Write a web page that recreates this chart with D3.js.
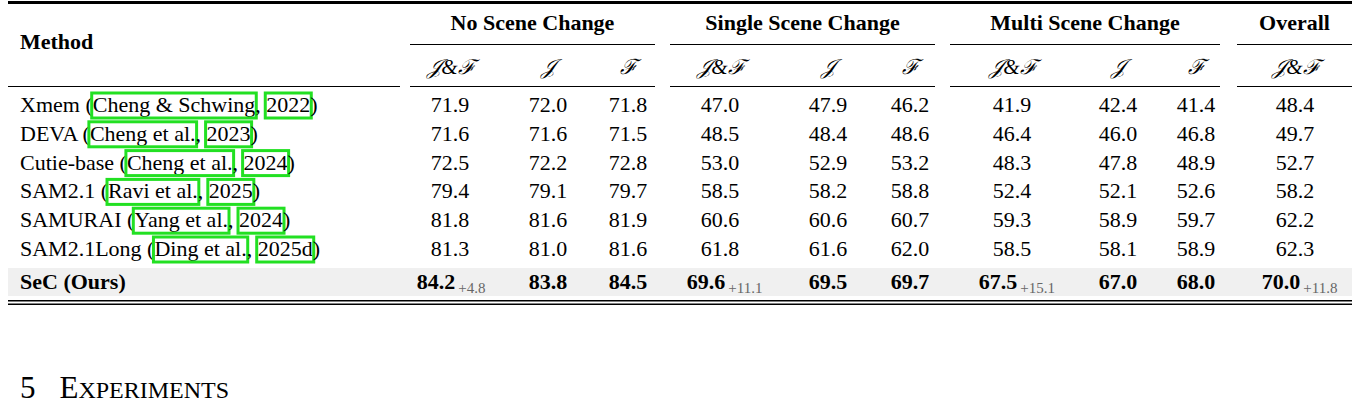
<!DOCTYPE html>
<html><head><meta charset="utf-8">
<script src="https://cdn.jsdelivr.net/npm/d3@7"></script>
<style>body{margin:0;background:#fff}text{font-family:"Liberation Serif","Times New Roman",serif}</style>
</head><body><svg id="t" width="1365" height="408"></svg>
<script>
// table data
const groups = ["No Scene Change", "Single Scene Change", "Multi Scene Change", "Overall"];
const subCols = ["𝒥&ℱ", "𝒥", "ℱ", "𝒥&ℱ", "𝒥", "ℱ", "𝒥&ℱ", "𝒥", "ℱ", "𝒥&ℱ"];
const methods = ["Xmem", "DEVA", "Cutie-base", "SAM2.1", "SAMURAI", "SAM2.1Long"];
const citeAuthors = ["Cheng & Schwing", "Cheng et al.", "Cheng et al.", "Ravi et al.", "Yang et al.", "Ding et al."];
const citeYears = ["2022", "2023", "2024", "2025", "2024", "2025d"];
const values = [
  [71.9, 72.0, 71.8, 47.0, 47.9, 46.2, 41.9, 42.4, 41.4, 48.4],
  [71.6, 71.6, 71.5, 48.5, 48.4, 48.6, 46.4, 46.0, 46.8, 49.7],
  [72.5, 72.2, 72.8, 53.0, 52.9, 53.2, 48.3, 47.8, 48.9, 52.7],
  [79.4, 79.1, 79.7, 58.5, 58.2, 58.8, 52.4, 52.1, 52.6, 58.2],
  [81.8, 81.6, 81.9, 60.6, 60.6, 60.7, 59.3, 58.9, 59.7, 62.2],
  [81.3, 81.0, 81.6, 61.8, 61.6, 62.0, 58.5, 58.1, 58.9, 62.3]
];
const oursName = "SeC (Ours)";
const oursValues = [84.2, 83.8, 84.5, 69.6, 69.5, 69.7, 67.5, 67.0, 68.0, 70.0];
const oursGain = ["+4.8", null, null, "+11.1", null, null, "+15.1", null, null, "+11.8"];

const svg = d3.select("#t");
const colX = d3.scaleOrdinal().domain(d3.range(10))
  .range([450, 548, 628, 720, 828, 910, 1012, 1118, 1196, 1295]);
const groupSpan = [[410, 655], [670, 935], [950, 1220], [1237, 1352]];
const rowY = d3.scalePoint().domain(d3.range(6)).range([112, 256]);
const oursY = 289;

// rules
svg.append("rect").attr("x", 8).attr("y", 1).attr("width", 1344).attr("height", 3).attr("fill", "#000");
svg.append("rect").attr("x", 8).attr("y", 268).attr("width", 1344).attr("height", 28).attr("fill", "#f0f0f0");
svg.append("rect").attr("x", 8).attr("y", 300).attr("width", 1344).attr("height", 1.5).attr("fill", "#000");
svg.append("rect").attr("x", 8).attr("y", 303.5).attr("width", 1344).attr("height", 1.5).attr("fill", "#000");
groupSpan.forEach(s => {
  svg.append("line").attr("x1", s[0]).attr("x2", s[1]).attr("y1", 44.5).attr("y2", 44.5).attr("stroke", "#000");
  svg.append("line").attr("x1", s[0]).attr("x2", s[1]).attr("y1", 86.5).attr("y2", 86.5).attr("stroke", "#000");
});
svg.append("line").attr("x1", 8).attr("x2", 400).attr("y1", 86.5).attr("y2", 86.5).attr("stroke", "#000");

// headers
svg.append("text").attr("x", 20).attr("y", 49).attr("font-size", 22).attr("font-weight", "bold").text("Method");
groups.forEach((g, i) => svg.append("text").attr("x", (groupSpan[i][0] + groupSpan[i][1]) / 2).attr("y", 30)
  .attr("text-anchor", "middle").attr("font-size", 22).attr("font-weight", "bold").text(g));
subCols.forEach((c, i) => svg.append("text").attr("x", colX(i)).attr("y", 74).attr("text-anchor", "middle")
  .attr("font-size", 21).attr("font-style", "italic").attr("font-family", "DejaVu Serif").text(c));

// method names with citation boxes
methods.forEach((m, r) => {
  let x = 20;
  const y = rowY(r);
  const parts = [[m + " (", false], [citeAuthors[r], true], [", ", false], [citeYears[r], true], [")", false]];
  parts.forEach(([s, box]) => {
    const t = svg.append("text").attr("x", x).attr("y", y).attr("font-size", 22).attr("xml:space", "preserve").text(s);
    const w = t.node().getComputedTextLength();
    if (box) svg.append("rect").attr("x", x - 1).attr("y", y - 19).attr("width", w + 2).attr("height", 25)
      .attr("fill", "none").attr("stroke", "#22e022").attr("stroke-width", 3);
    x += w;
  });
  values[r].forEach((v, i) => svg.append("text").attr("x", colX(i)).attr("y", y).attr("text-anchor", "middle")
    .attr("font-size", 22).text(v.toFixed(1)));
});

// ours row
svg.append("text").attr("x", 20).attr("y", oursY).attr("font-size", 22).attr("font-weight", "bold").text(oursName);
oursValues.forEach((v, i) => {
  const t = svg.append("text").attr("x", colX(i)).attr("y", oursY).attr("text-anchor", "middle")
    .attr("font-size", 22).attr("font-weight", "bold").text(v.toFixed(1));
  if (oursGain[i]) {
    const w = t.node().getComputedTextLength();
    t.attr("text-anchor", "start").attr("x", colX(i) - w / 2 - 14);
    svg.append("text").attr("x", colX(i) + w / 2 - 11).attr("y", oursY + 4).attr("font-size", 15)
      .attr("fill", "#666").text(oursGain[i]);
  }
});

// section heading
const h = svg.append("text").attr("x", 20).attr("y", 398).attr("font-size", 31);
h.append("tspan").text("5");
h.append("tspan").attr("dx", 24).text("E");
h.append("tspan").attr("font-size", 24).text("XPERIMENTS");
</script></body></html>
